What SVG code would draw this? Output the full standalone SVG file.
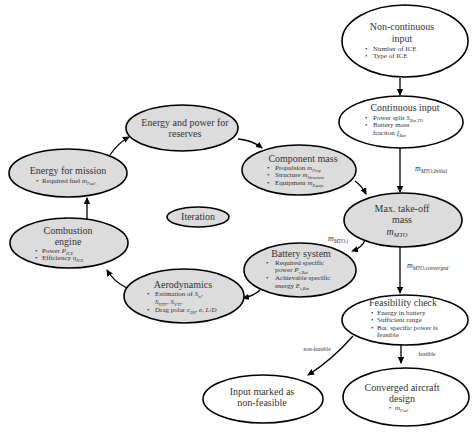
<svg xmlns="http://www.w3.org/2000/svg" width="474" height="432" viewBox="0 0 474 432" font-family="'Liberation Serif', 'DejaVu Serif', serif">
<defs>
<marker id="ah" markerWidth="8" markerHeight="8" refX="6" refY="4" orient="auto" markerUnits="userSpaceOnUse">
<path d="M0,0.8 L7,4 L0,7.2 Z" fill="#000"/>
</marker>
</defs>
<style>
.w{fill:#fff;stroke:#000;stroke-width:1.6}
.g{fill:#dcdcdc;stroke:#000;stroke-width:1.6}
text{fill:#333}
.t{font-size:10px;text-anchor:middle}
.b{font-size:7px}
.c{text-anchor:middle}
.l{font-size:8px}
.s{font-size:5.5px}
.i{font-style:italic}
.e{fill:none;stroke:#000;stroke-width:1.3;marker-end:url(#ah)}
</style>
<rect width="474" height="432" fill="#fff"/>
<g id="connectors">
<path class="e" d="M400,78 L400,95"/>
<path class="e" d="M400,148 L400,192"/>
<path class="e" d="M400,247 L400,293"/>
<path class="e" d="M401,345 L401,363"/>
<path class="e" d="M353,336 Q332,360 308,375"/>
<path class="e" d="M238,139 Q252,140 262,148"/>
<path class="e" d="M355,181 Q362,186 366,194"/>
<path class="e" d="M365,240 Q362,248 352,251"/>
<path class="e" d="M260,290 Q254,296 243,298"/>
<path class="e" d="M127,288 Q114,282 107,270"/>
<path class="e" d="M87,219 L87,198"/>
<path class="e" d="M110,155 Q118,143 129,137"/>
<text x="415" y="171" class="l"><tspan class="i">m</tspan><tspan class="i s" dy="2">MTO,Initial</tspan></text>
<text x="328" y="241" class="l"><tspan class="i">m</tspan><tspan class="i s" dy="2">MTO,i</tspan></text>
<text x="407" y="268" class="l"><tspan class="i">m</tspan><tspan class="i s" dy="2">MTO,converged</tspan></text>
<text x="317" y="351" class="s c">non-feasible</text>
<text x="427" y="356" class="s c">feasible</text>
</g>
<g id="noncontinuous">
<ellipse class="w" cx="405" cy="41" rx="63" ry="36"/>
<text x="402" y="30" class="t">Non-continuous</text>
<text x="402" y="42" class="t">input</text>
<text x="365" y="51" class="b">•</text><text x="373" y="51" class="b">Number of ICE</text>
<text x="365" y="58" class="b">•</text><text x="373" y="58" class="b">Type of ICE</text>
</g>
<g id="continuous">
<ellipse class="w" cx="401" cy="122" rx="62" ry="26"/>
<text x="405" y="111" class="t">Continuous input</text>
<text x="365" y="120" class="b">•</text><text x="373" y="120" class="b">Power split <tspan class="i">S</tspan><tspan class="i" font-size="4.5" dy="1.5">Bat,TO</tspan></text>
<text x="365" y="127" class="b">•</text><text x="373" y="127" class="b">Battery mass</text>
<text x="373" y="135" class="b">fraction <tspan class="i">ξ</tspan><tspan class="i" font-size="4.5" dy="1.5">Bat</tspan></text>
</g>
<g id="mtom">
<ellipse class="g" cx="403" cy="220" rx="59" ry="27"/>
<text x="402" y="212" class="t">Max. take-off</text>
<text x="402" y="223" class="t">mass</text>
<text x="397" y="235" class="t"><tspan class="i">m</tspan><tspan class="i" font-size="6.5" dy="2">MTO</tspan></text>
</g>
<g id="feasibility">
<ellipse class="w" cx="405" cy="320" rx="63" ry="25"/>
<text x="403" y="306" class="t">Feasibility check</text>
<text x="371" y="315" class="b">•</text><text x="377" y="315" class="b">Energy in battery</text>
<text x="371" y="322" class="b">•</text><text x="377" y="322" class="b">Sufficient range</text>
<text x="371" y="330" class="b">•</text><text x="377" y="330" class="b">Bat. specific power is</text>
<text x="377" y="337" class="b">feasible</text>
</g>
<g id="converged">
<ellipse class="w" cx="406" cy="397" rx="63" ry="29"/>
<text x="402" y="391" class="t">Converged aircraft</text>
<text x="402" y="402" class="t">design</text>
<text x="389" y="410" class="b">•</text><text x="395" y="410" class="b"><tspan class="i">m</tspan><tspan class="i" font-size="4.5" dy="1.5">Fuel</tspan></text>
</g>
<g id="nonfeasible">
<ellipse class="w" cx="263" cy="399" rx="60" ry="24"/>
<text x="262" y="395" class="t">Input marked as</text>
<text x="262" y="406" class="t">non-feasible</text>
</g>
<g id="reserves">
<ellipse class="g" cx="182" cy="128" rx="56" ry="23"/>
<text x="185" y="126" class="t">Energy and power for</text>
<text x="185" y="137" class="t">reserves</text>
</g>
<g id="component">
<ellipse class="g" cx="299" cy="170" rx="57" ry="25"/>
<text x="303" y="162" class="t">Component mass</text>
<text x="267" y="170" class="b">•</text><text x="275" y="170" class="b">Propulsion <tspan class="i">m</tspan><tspan class="i" font-size="4.5" dy="1.5">Prop</tspan></text>
<text x="267" y="177" class="b">•</text><text x="275" y="177" class="b">Structure <tspan class="i">m</tspan><tspan class="i" font-size="4.5" dy="1.5">Structure</tspan></text>
<text x="267" y="185" class="b">•</text><text x="275" y="185" class="b">Equipment <tspan class="i">m</tspan><tspan class="i" font-size="4.5" dy="1.5">Equip</tspan></text>
</g>
<g id="mission">
<ellipse class="g" cx="68" cy="173" rx="59" ry="24"/>
<text x="68" y="174" class="t">Energy for mission</text>
<text x="36" y="183" class="b">•</text><text x="42" y="183" class="b">Required fuel <tspan class="i">m</tspan><tspan class="i" font-size="4.5" dy="1.5">Fuel</tspan></text>
</g>
<g id="iteration">
<ellipse class="g" cx="198" cy="217" rx="31" ry="10"/>
<text x="198" y="220" class="t">Iteration</text>
</g>
<g id="combustion">
<ellipse class="g" cx="69" cy="243" rx="59" ry="25"/>
<text x="68" y="234" class="t">Combustion</text>
<text x="68" y="245" class="t">engine</text>
<text x="35" y="253" class="b">•</text><text x="42" y="253" class="b">Power <tspan class="i">P</tspan><tspan class="i" font-size="4.5" dy="1.5">ICE</tspan></text>
<text x="35" y="260" class="b">•</text><text x="42" y="260" class="b">Efficiency <tspan class="i">η</tspan><tspan class="i" font-size="4.5" dy="1.5">ICE</tspan></text>
</g>
<g id="aero">
<ellipse class="g" cx="184" cy="296" rx="60" ry="27"/>
<text x="183" y="288" class="t">Aerodynamics</text>
<text x="147" y="296" class="b">•</text><text x="155" y="296" class="b">Estimation of <tspan class="i">S</tspan><tspan class="i" font-size="4.5" dy="1.5">w</tspan><tspan dy="-1.5">,</tspan></text>
<text x="155" y="304" class="b"><tspan class="i">S</tspan><tspan class="i" font-size="4.5" dy="1.5">HTP</tspan><tspan dy="-1.5">, </tspan><tspan class="i">S</tspan><tspan class="i" font-size="4.5" dy="1.5">VTP</tspan></text>
<text x="147" y="312" class="b">•</text><text x="155" y="312" class="b">Drag polar <tspan class="i">c</tspan><tspan class="i" font-size="4.5" dy="1.5">D0</tspan><tspan dy="-1.5">, </tspan><tspan class="i">e</tspan>, <tspan class="i">L</tspan>/<tspan class="i">D</tspan></text>
</g>
<g id="battery">
<ellipse class="g" cx="300" cy="270" rx="56" ry="27"/>
<text x="301" y="257" class="t">Battery system</text>
<text x="266" y="265" class="b">•</text><text x="275" y="265" class="b">Required specific</text>
<text x="275" y="272" class="b">power <tspan class="i">P</tspan><tspan class="i" font-size="4.5" dy="1.5">s,Bat</tspan></text>
<text x="266" y="280" class="b">•</text><text x="275" y="280" class="b">Achievable specific</text>
<text x="275" y="288" class="b">energy <tspan class="i">E</tspan><tspan class="i" font-size="4.5" dy="1.5">s,Bat</tspan></text>
</g>
</svg>
